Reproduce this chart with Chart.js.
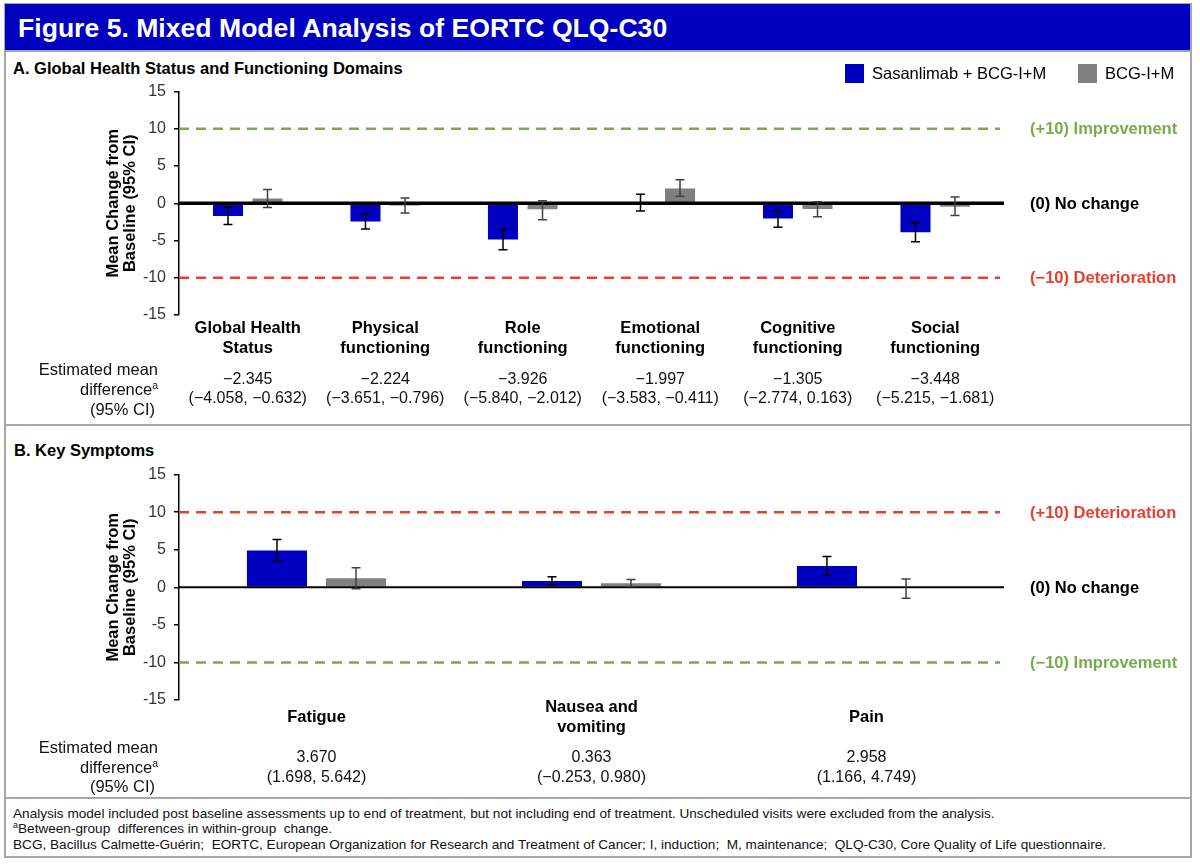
<!DOCTYPE html>
<html><head><meta charset="utf-8">
<script src="https://cdn.jsdelivr.net/npm/chart.js@4.4.1/dist/chart.umd.min.js"></script>
<style>
html,body{margin:0;padding:0;background:#fff;}
body{width:1200px;height:864px;position:relative;overflow:hidden;font-family:"Liberation Sans",Arial,sans-serif;color:#000;}
.abs{position:absolute;}
#frame{left:4px;top:3px;width:1188px;height:855px;border:2px solid #a6a6a6;box-sizing:border-box;}
#titlebar{left:5px;top:4px;width:1185px;height:46px;background:#0000C0;border-bottom:2px solid #a6a6a6;}
#titletext{left:18px;top:12px;font-weight:bold;font-size:26.6px;color:#fff;white-space:nowrap;line-height:32px;}
.sec{font-weight:bold;font-size:16.5px;white-space:nowrap;line-height:18px;}
.sep{left:5px;width:1185px;height:0;border-top:2px solid #a6a6a6;}
.leg{font-size:16.5px;white-space:nowrap;line-height:20px;}
.legbox{width:19px;height:19px;}
.foot{left:13px;font-size:13.6px;white-space:nowrap;line-height:16px;color:#111;}
.foot sup{font-size:9px;vertical-align:top;line-height:0;position:relative;top:4px;}
canvas{position:absolute;left:0;}
</style>
</head><body>
<div id="frame" class="abs"></div>
<div id="titlebar" class="abs"></div>
<div id="titletext" class="abs">Figure 5. Mixed Model Analysis of EORTC QLQ-C30</div>
<div class="abs sec" style="left:13px;top:59px;">A. Global Health Status and Functioning Domains</div>
<canvas id="topChart" width="1200" height="346" style="top:74px;width:1200px;height:346px;"></canvas>
<div id="legend"></div>
<div class="abs sep" style="top:424px;"></div>
<div class="abs sec" style="left:14px;top:441px;">B. Key Symptoms</div>
<canvas id="bottomChart" width="1200" height="340" style="top:457px;width:1200px;height:340px;"></canvas>
<div class="abs sep" style="top:797px;"></div>
<div class="abs foot" style="top:806px;">Analysis model included post baseline assessments up to end of treatment, but not including end of treatment. Unscheduled visits were excluded from the analysis.</div>
<div class="abs foot" style="top:821px;"><sup>a</sup>Between-group&nbsp; differences in within-group&nbsp; change.</div>
<div class="abs foot" style="top:837px;">BCG, Bacillus Calmette-Guérin;&nbsp; EORTC, European Organization for Research and Treatment of Cancer; I, induction;&nbsp; M, maintenance;&nbsp; QLQ-C30, Core Quality of Life questionnaire.</div>
<script>
// ---------- DATA ----------
const seriesNames = ["Sasanlimab + BCG-I+M", "BCG-I+M"];
const seriesColors = ["#0000C0", "#808080"];
const yTicks = [-15, -10, -5, 0, 5, 10, 15];

// Panel A
const topCategories = [["Global Health","Status"],["Physical","functioning"],["Role","functioning"],["Emotional","functioning"],["Cognitive","functioning"],["Social","functioning"]];
const topSasanlimab     = [-1.7, -2.45, -4.85, 0.1, -2.05, -3.9];
const topSasanlimabLow  = [-2.85, -3.45, -6.25, -1.05, -3.2, -5.15];
const topSasanlimabHigh = [-0.5, -1.4, -3.45, 1.2, -1.1, -2.6];
const topBCG            = [0.65, -0.3, -0.8, 2.0, -0.75, -0.45];
const topBCGLow         = [-0.55, -1.3, -2.2, 0.95, -1.8, -1.65];
const topBCGHigh        = [1.85, 0.7, 0.35, 3.15, 0.2, 0.85];
const topDiff   = ["−2.345","−2.224","−3.926","−1.997","−1.305","−3.448"];
const topDiffCI = ["(−4.058, −0.632)","(−3.651, −0.796)","(−5.840, −2.012)","(−3.583, −0.411)","(−2.774, 0.163)","(−5.215, −1.681)"];

// Panel B
const bottomCategories = ["Fatigue", ["Nausea and","vomiting"], "Pain"];
const bottomSasanlimab     = [4.9, 0.85, 2.85];
const bottomSasanlimabLow  = [3.55, 0.35, 1.6];
const bottomSasanlimabHigh = [6.35, 1.4, 4.1];
const bottomBCG            = [1.2, 0.55, 0.1];
const bottomBCGLow         = [-0.2, 0.1, -1.45];
const bottomBCGHigh        = [2.6, 1.05, 1.1];
const bottomDiff   = ["3.670","0.363","2.958"];
const bottomDiffCI = ["(1.698, 5.642)","(−0.253, 0.980)","(1.166, 4.749)"];

// ---------- STYLE ----------
const FONT = '"Liberation Sans", Arial, sans-serif';
const GREEN = "#77AC4A";
const RED = "#E8402F";

// legend (HTML, built from series arrays)
(function(){
  const leg = document.getElementById('legend');
  const pos = [{box:845,text:872},{box:1078,text:1105}];
  seriesNames.forEach((n,i)=>{
    const b=document.createElement('div'); b.className='abs legbox';
    b.style.left=pos[i].box+'px'; b.style.top='64px'; b.style.background=seriesColors[i];
    leg.appendChild(b);
    const t=document.createElement('div'); t.className='abs leg';
    t.style.left=pos[i].text+'px'; t.style.top='63px'; t.textContent=n;
    leg.appendChild(t);
  });
})();

function panelPlugin(p){
  return {
    id:'panelDecor',
    beforeDatasetsDraw(chart){
      const ctx=chart.ctx, ca=chart.chartArea, y=chart.scales.y;
      ctx.save();
      ctx.lineWidth=2.5; ctx.setLineDash([10,7]);
      [[10,p.upperColor],[-10,p.lowerColor]].forEach(([v,c])=>{
        const py=y.getPixelForValue(v);
        ctx.strokeStyle=c; ctx.beginPath(); ctx.moveTo(ca.left,py); ctx.lineTo(ca.right-4,py); ctx.stroke();
      });
      ctx.restore();
    },
    afterDatasetsDraw(chart){
      const ctx=chart.ctx, ca=chart.chartArea, y=chart.scales.y;
      ctx.save();
      const z=y.getPixelForValue(0);
      ctx.strokeStyle='#000'; ctx.lineWidth=p.zeroWidth;
      ctx.beginPath(); ctx.moveTo(ca.left,z); ctx.lineTo(ca.right,z); ctx.stroke();
      const errColors=['#000','#404040'];
      [[p.s1lo,p.s1hi],[p.s2lo,p.s2hi]].forEach(([lo,hi],di)=>{
        const meta=chart.getDatasetMeta(di);
        ctx.strokeStyle=errColors[di]; ctx.lineWidth=1.5;
        meta.data.forEach((bar,j)=>{
          const x=bar.x, y1=y.getPixelForValue(lo[j]), y2=y.getPixelForValue(hi[j]);
          ctx.beginPath();
          ctx.moveTo(x,y1); ctx.lineTo(x,y2);
          ctx.moveTo(x-4.5,y1); ctx.lineTo(x+4.5,y1);
          ctx.moveTo(x-4.5,y2); ctx.lineTo(x+4.5,y2);
          ctx.stroke();
        });
      });
      ctx.restore();
    },
    afterDraw(chart){
      const ctx=chart.ctx, ca=chart.chartArea, y=chart.scales.y, x=chart.scales.x;
      ctx.save();
      ctx.font='bold 16.5px '+FONT; ctx.textAlign='left'; ctx.textBaseline='middle';
      [[10,p.upperLabel,p.upperColor],[0,'(0) No change','#000'],[-10,p.lowerLabel,p.lowerColor]].forEach(([v,t,c])=>{
        ctx.fillStyle=c; ctx.fillText(t,1030,y.getPixelForValue(v)+1);
      });
      ctx.save();
      ctx.translate(0,(ca.top+ca.bottom)/2);
      ctx.rotate(-Math.PI/2);
      ctx.font='bold 16.5px '+FONT; ctx.fillStyle='#000'; ctx.textAlign='center';
      ctx.fillText('Mean Change from',0,113);
      ctx.fillText('Baseline (95% CI)',0,130);
      ctx.restore();
      ctx.fillStyle='#111'; ctx.textAlign='center';
      ctx.font='16px '+FONT;
      p.diff.forEach((d,j)=>{
        const px=x.getPixelForValue(j);
        ctx.fillText(d,px,p.estY[0]);
        ctx.fillText(p.diffCI[j],px,p.estY[1]);
      });
      ctx.textAlign='right'; ctx.font='16.5px '+FONT;
      const R=158;
      ctx.fillText('Estimated mean',R,p.estLabelY[0]);
      ctx.font='10.5px '+FONT;
      const aw=ctx.measureText('a').width;
      ctx.fillText('a',R,p.estLabelY[1]-4);
      ctx.font='16.5px '+FONT;
      ctx.fillText('difference',R-aw,p.estLabelY[1]);
      ctx.fillText('(95% CI)',R-3,p.estLabelY[2]);
      ctx.restore();
    }
  };
}

function buildChart(id,p){
  return new Chart(document.getElementById(id),{
    type:'bar',
    data:{
      labels:p.categories,
      datasets:[
        {label:seriesNames[0],data:p.s1,backgroundColor:seriesColors[0],borderWidth:0},
        {label:seriesNames[1],data:p.s2,backgroundColor:seriesColors[1],borderWidth:0}
      ]
    },
    options:{
      responsive:false,animation:false,devicePixelRatio:1,
      categoryPercentage:0.575,barPercentage:0.76,
      layout:{padding:{left:0,right:196,top:4,bottom:0}},
      plugins:{legend:{display:false},tooltip:{enabled:false}},
      scales:{
        x:{
          grid:{display:false,drawTicks:false},
          border:{display:false},
          ticks:{font:{family:FONT,size:16.5,weight:'bold',lineHeight:1.25},color:'#000',padding:p.tickPad,maxRotation:0,autoSkip:false,crossAlign:p.crossAlign},
          afterFit(s){s.height=p.xAxisHeight;}
        },
        y:{
          min:-15,max:15,
          afterBuildTicks(s){s.ticks=yTicks.map(v=>({value:v}));},
          grid:{display:true,drawOnChartArea:false,drawTicks:true,tickLength:5,color:'#000',lineWidth:1.5},
          border:{display:true,color:'#000',width:1.5},
          ticks:{font:{family:FONT,size:16},color:'#333',padding:8},
          afterFit(s){s.width=179;}
        }
      }
    },
    plugins:[panelPlugin(p)]
  });
}

buildChart('topChart',{
  categories:topCategories,
  s1:topSasanlimab,s1lo:topSasanlimabLow,s1hi:topSasanlimabHigh,
  s2:topBCG,s2lo:topBCGLow,s2hi:topBCGHigh,
  diff:topDiff,diffCI:topDiffCI,
  upperLabel:'(+10) Improvement',upperColor:GREEN,
  lowerLabel:'(−10) Deterioration',lowerColor:RED,
  zeroWidth:3.5,xAxisHeight:105,tickPad:3,crossAlign:'near',
  estY:[306,325],estLabelY:[296,316,336]
});
buildChart('bottomChart',{
  categories:bottomCategories,
  s1:bottomSasanlimab,s1lo:bottomSasanlimabLow,s1hi:bottomSasanlimabHigh,
  s2:bottomBCG,s2lo:bottomBCGLow,s2hi:bottomBCGHigh,
  diff:bottomDiff,diffCI:bottomDiffCI,
  upperLabel:'(+10) Deterioration',upperColor:RED,
  lowerLabel:'(−10) Improvement',lowerColor:GREEN,
  zeroWidth:2,xAxisHeight:97,tickPad:7,crossAlign:'center',
  estY:[301,321],estLabelY:[291,311,330]
});
</script>
</body></html>
